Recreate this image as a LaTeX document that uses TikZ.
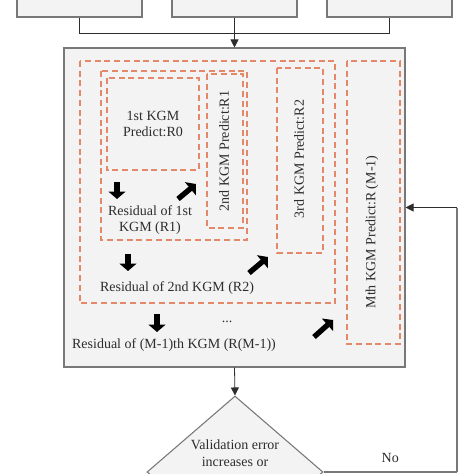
\documentclass[tikz,border=0pt]{standalone}
\usepackage{fontspec}
\setmainfont{Liberation Serif}
\usepackage{tikz}
\usetikzlibrary{arrows.meta,positioning,shapes.geometric,calc}
\definecolor{boxgray}{RGB}{243,243,243}
\definecolor{edgegray}{RGB}{120,120,120}
\definecolor{kgmorange}{RGB}{228,136,106}
\definecolor{txtgray}{RGB}{45,45,45}

\begin{document}
\begin{tikzpicture}[x=0.75pt, y=-0.75pt,
    every node/.style={font=\fontsize{10.5}{12.5}\selectfont, text=txtgray},
    grayblock/.style={draw=edgegray, fill=boxgray, line width=0.8pt, inner sep=0pt},
    kgmbox/.style={draw=kgmorange, line width=0.9pt, dash pattern=on 4.5pt off 2.8pt},
    link/.style={draw=txtgray, line width=0.6pt},
    fatarrow/.style={line width=4pt, black, -{Triangle[length=5.5pt, width=12.5pt]}}]
    \clip (0,0) rectangle (474,474);
    \fill[white] (0,0) rectangle (474,474);
    % Inputs
    \node[grayblock, minimum width=93.75pt, minimum height=22.5pt] (inA) at (79.5,2) {};
    \node[grayblock, minimum width=93.75pt, minimum height=22.5pt] (inB) at (234.5,2) {};
    \node[grayblock, minimum width=93.75pt, minimum height=22.5pt] (inC) at (389.5,2) {};
    \coordinate (joinA) at (79.5,33);
    \coordinate (joinC) at (389.5,33);
    % Boosting block
    \node[grayblock, minimum width=255.75pt, minimum height=239.25pt] (boost) at (234.5,207.5) {};
    \draw[link] (inA.south) -- (joinA) -- (joinC) -- (inC.south);
    \draw[link, -{Triangle[length=6pt, width=6pt]}] (inB.south) -- (boost.north);
    % Nested models
    \draw[kgmbox] (80,61) rectangle (335,303);
    \draw[kgmbox] (101,71) rectangle (247,240);
    \draw[kgmbox] (107,78) rectangle (199,170);
    \draw[kgmbox] (207,74) rectangle (243,228);
    \draw[kgmbox] (277,68) rectangle (323,253);
    \draw[kgmbox] (347,61) rectangle (400,344);
    \node[align=center] (kgm1) at (153,124) {1st KGM\\Predict:R0};
    \node[rotate=90] (kgm2) at (224,151) {2nd KGM Predict:R1};
    \node[rotate=90] (kgm3) at (299,159) {3rd KGM Predict:R2};
    \node[rotate=90] (kgmM) at (372,232) {Mth KGM Predict:R (M-1)};
    \node[align=center] (res1) at (150,220) {Residual of 1st\\KGM (R1)};
    \node (res2) at (177,288) {Residual of 2nd KGM (R2)};
    \node (dots) at (227,322) {...};
    \node (resM) at (174,345) {Residual of (M-1)th KGM (R(M-1))};
    % Block arrows
    \draw[fatarrow] (117,182) -- (117,199);
    \draw[fatarrow] (178,199) -- (196,184);
    \draw[fatarrow] (128,254) -- (128,271);
    \draw[fatarrow] (249,273) -- (268,257);
    \draw[fatarrow] (157,314) -- (157,332);
    \draw[fatarrow] (314,337) -- (333,320);
    % Decision
    \node[diamond, grayblock, minimum width=132pt, minimum height=114pt] (check) at (235,472) {};
    \node[align=center] (checktxt) at (235,453) {Validation error\\increases or};
    \draw[link, -{Triangle[length=6pt, width=6pt]}] (boost.south) -- (check.north);
    \coordinate (loop) at (457,472);
    \draw[line width=1.1pt, draw=edgegray] (check.east) -- node[above=3pt, text=txtgray] (no) {No} (loop);
    \draw[line width=1.1pt, draw=edgegray] (loop) -- ($(loop|-boost.east)+(0,0.4)$);
    \draw[link, -{Triangle[length=6pt, width=6pt]}] (loop|-boost.east) -- (boost.east);
\end{tikzpicture}
\end{document}
